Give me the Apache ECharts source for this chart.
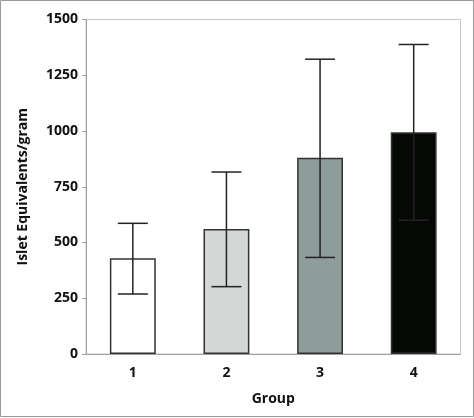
<!DOCTYPE html><html><head><meta charset="utf-8"><script src="https://cdn.jsdelivr.net/npm/echarts@6/dist/echarts.min.js"></script>
<style>html,body{margin:0;padding:0;background:#fff}#c{width:474px;height:418px}</style></head><body><div id="c"></div><script>
const categories=['1','2','3','4'];
const means=[429,561,880,994];
const errLow=[269,302,433,600];
const errHigh=[586,816,1322,1388];
const colors=['#ffffff','#d3d8d7','#8e9c9a','#060806'];
const yTicks=[0,250,500,750,1000,1250,1500];
const ch=echarts.init(document.getElementById('c'));
const font='"Open Sans", "DejaVu Sans", sans-serif';
ch.setOption({
 animation:false,
 graphic:[{type:'rect',shape:{x:0.5,y:0.5,width:473,height:416},style:{fill:'none',stroke:'#999',lineWidth:1}}],
 grid:{left:86,right:13.5,top:19.5,bottom:64,show:true,borderColor:'#c8c8c8',borderWidth:1},
 xAxis:{type:'category',data:categories,name:'Group',nameLocation:'middle',nameGap:38,
  nameTextStyle:{fontFamily:font,fontWeight:'bold',fontSize:14,color:'#111'},
  axisLine:{lineStyle:{color:'#a0a0a0'}},axisTick:{show:false},
  axisLabel:{fontFamily:font,fontWeight:'bold',fontSize:14,color:'#111',margin:12}},
 yAxis:{type:'value',min:0,max:1500,interval:250,name:'Islet Equivalents/gram',nameLocation:'middle',nameGap:56,
  nameTextStyle:{fontFamily:font,fontWeight:'bold',fontSize:14,color:'#111'},
  axisLine:{show:true,lineStyle:{color:'#a0a0a0'}},axisTick:{show:true,length:4,lineStyle:{color:'#a0a0a0'}},splitLine:{show:false},
  axisLabel:{fontFamily:font,fontWeight:'bold',fontSize:14,color:'#111',margin:8,formatter:v=>yTicks.includes(v)?String(v):''}},
 series:[{type:'bar',data:means.map((v,i)=>({value:v,itemStyle:{color:colors[i]}})),barWidth:'49%',
   itemStyle:{borderColor:'#333',borderWidth:1.5},z:2},
  {type:'custom',z:3,data:categories.map((c,i)=>[i,errLow[i],errHigh[i]]),
   renderItem:(p,api)=>{const x=api.coord([api.value(0),0])[0];const lo=api.coord([api.value(0),api.value(1)])[1];const hi=api.coord([api.value(0),api.value(2)])[1];const w=15;const st={stroke:'#222',lineWidth:1.5};
    return {type:'group',children:[{type:'line',shape:{x1:x,y1:lo,x2:x,y2:hi},style:st},{type:'line',shape:{x1:x-w,y1:hi,x2:x+w,y2:hi},style:st},{type:'line',shape:{x1:x-w,y1:lo,x2:x+w,y2:lo},style:st}]};}}]
});
</script></body></html>
